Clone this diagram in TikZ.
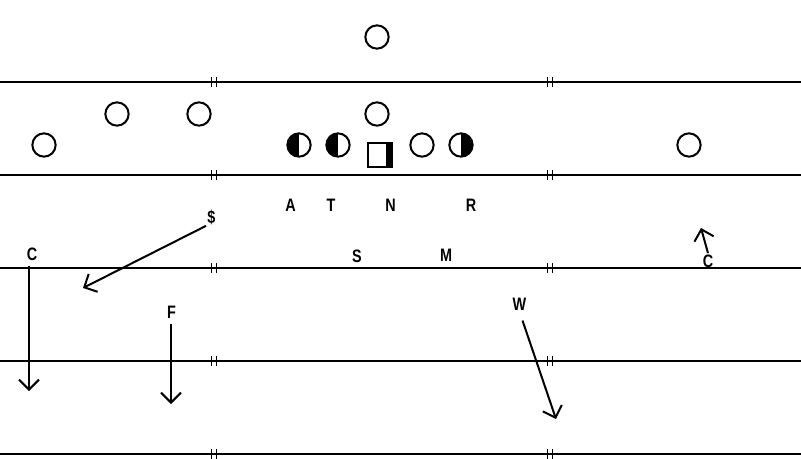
\documentclass[tikz,border=0pt]{standalone}
\usepackage{fontspec}
\setmainfont{Liberation Sans}
\newfontfamily\lblfont[FakeStretch=0.8]{Liberation Sans}
\usepackage{tikz}
\usetikzlibrary{arrows.meta}
\tikzset{every picture/.style={line width=0.75pt}}
\tikzset{
  player/.style={circle,draw,line width=1.5pt,inner sep=0pt,minimum size=17.5pt},
  lhalf/.style={player,path picture={\fill (path picture bounding box.south west) rectangle (path picture bounding box.north);}},
  rhalf/.style={player,path picture={\fill (path picture bounding box.south) rectangle (path picture bounding box.north east);}},
  snapper/.style={rectangle,draw,line width=1.5pt,inner sep=0pt,minimum size=18pt,
    path picture={\fill ([xshift=-4.5pt]path picture bounding box.south east) rectangle (path picture bounding box.north east);}},
  lbl/.style={inner sep=0.75pt,font=\lblfont\bfseries\fontsize{13.5}{13.5}\selectfont},
  route/.style={line width=1.5pt,-{Straight Barb[length=7.5pt,width=15pt,line width=1.5pt]}},
}

\begin{document}
\begin{tikzpicture}[x=0.75pt,y=0.75pt,yscale=-1,xscale=1]
\useasboundingbox (0,0) rectangle (801,458);

%Straight Lines: yard lines and hash marks
\foreach \y in {82,175,268,361,454} {
  \draw [line width=1pt] (0,\y) -- (801,\y) ;
  \foreach \x in {214,550} {
    \draw [line width=1pt] (\x-2.7,\y-5) -- ++(0,10) ;
    \draw [line width=1pt] (\x+2.7,\y-5) -- ++(0,10) ;
  }
}

%Shape: Circle (offense)
\node [player] (qb) at (377,37) {};
\node [player] (wl) at (117,114) {};
\node [player] (sl) at (199,114) {};
\node [player] (hb) at (377,114) {};
\node [player] (xl) at (44,145) {};
\node [lhalf] (lt) at (299,145) {};
\node [lhalf] (lg) at (338,145) {};
\node [snapper] (ct) at (380,154.5) {};
\node [player] (rg) at (422,145) {};
\node [rhalf] (rt) at (461,145) {};
\node [player] (zr) at (689,145) {};

% Text Node (defense)
\node [lbl] (a) at (290.5,205) {A};
\node [lbl] (t) at (331,205) {T};
\node [lbl] (n) at (390.5,205) {N};
\node [lbl] (r) at (471,205) {R};
\node [lbl] (ss) at (211.5,217) {\$};
\node [lbl] (s) at (357,256) {S};
\node [lbl] (m) at (446,255) {M};
\node [lbl] (cl) at (32,254.5) {C};
\node [lbl] (f) at (171.5,312) {F};
\node [lbl] (w) at (519.5,304) {W};
\node [lbl] (cr) at (708,261) {C};

%Straight Lines (routes)
\coordinate (clB) at (29,391);
\coordinate (ssB) at (83,288);
\coordinate (fB) at (171,404);
\coordinate (wB) at (556,419);
\coordinate (crB) at (701,228);
\draw [route,shorten <=3pt] (cl.south -| clB) -- (clB) ;
\draw [route] (ss.south west) -- (ssB) ;
\draw [route,shorten <=3pt] (f.south -| fB) -- (fB) ;
\draw [route,shorten <=7pt] (w.south) -- (wB) ;
\draw [route] (cr.north) -- (crB) ;

\end{tikzpicture}
\end{document}
